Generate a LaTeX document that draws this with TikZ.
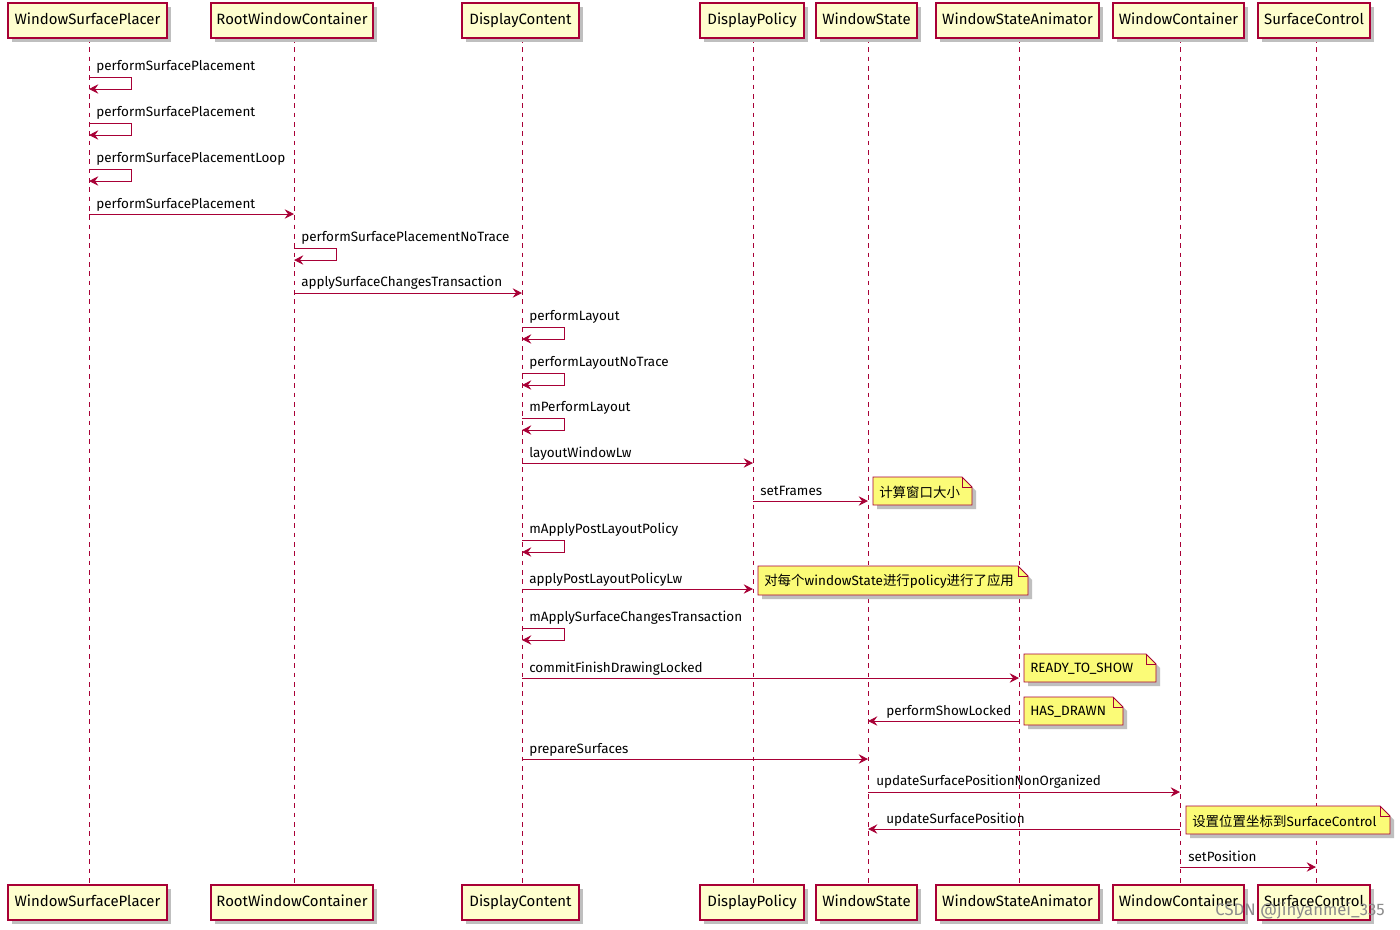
\documentclass[tikz,border=0pt]{standalone}
\usepackage{fontspec}
\setmainfont{Fira Sans}
\newfontfamily\cjk{Noto Sans CJK SC}
\usetikzlibrary{arrows.meta}
\definecolor{brd}{HTML}{A80036}
\definecolor{pbg}{HTML}{FEFECE}
\definecolor{nbg}{HTML}{FBFB77}
\tikzset{
 part/.style={draw=brd,fill=pbg,line width=0.9pt,minimum height=35*0.75pt,inner sep=0pt,text height=8pt,text depth=2.5pt,font=\fontsize{11.2}{13}\selectfont,anchor=center},
 shadow/.style={fill=black!25,draw=none},
 life/.style={draw=brd,dashed,dash pattern=on 3.5pt off 3.5pt,line width=0.6pt},
 msg/.style={draw=brd,line width=0.7pt,-{Stealth[length=7pt,width=7pt,inset=2.5pt]}},
 lbl/.style={font=\fontsize{10.1}{12}\selectfont,anchor=base west,inner sep=0pt},
 notef/.style={draw=brd,fill=nbg,line width=0.6pt},
}
\newcommand{\partbox}[5]{% name, x1, x2, y-center, text
 \fill[shadow] (#2+4,#4-13.5) rectangle (#3+4,#4+21.5);
 \node[part,minimum width=(#3-#2)*0.75pt] (#1) at ({(#2+#3)/2},#4) {#5};}
\newcommand{\selfmsg}[4]{% name x ytop label
 \coordinate (#1a) at (#2,#3); \coordinate (#1b) at (#2+42,#3);
 \coordinate (#1c) at (#2+42,#3+12); \coordinate (#1d) at (#2,#3+12);
 \draw[msg] (#1a) -- (#1b) -- (#1c) -- (#1d);
 \node[lbl] (#1l) at (#2+7,#3-7) {#4};}
\newcommand{\amsg}[5]{% name x1 x2 y label(labelx)
 \coordinate (#1a) at (#2,#4); \coordinate (#1b) at (#3,#4);
 \draw[msg] (#1a) -- (#1b);}
\newcommand{\note}[6]{% name x1 x2 y1 y2 text
 \fill[shadow] (#2+4,#4+4) -- (#3-6,#4+4) -- (#3+4,#4+14) -- (#3+4,#5+4) -- (#2+4,#5+4) -- cycle;
 \draw[notef] (#2,#4) -- (#3-10,#4) -- (#3,#4+10) -- (#3,#5) -- (#2,#5) -- cycle;
 \draw[brd,line width=0.6pt] (#3-10,#4) -- (#3-10,#4+10) -- (#3,#4+10);
 \node[lbl,anchor=west] (#1) at (#2+6,{(#4+#5)/2+1}) {#6};}
\begin{document}
\begin{tikzpicture}[x=0.75pt,y=-0.75pt]
\useasboundingbox (0,0) rectangle (1400,929);
\fill[white] (0,0) rectangle (1400,929);
% lifelines
\foreach \n/\x in {wsp/89,rwc/294,dc/522,dp/753,ws/868,wsa/1019,wc/1180,sc/1316}{
 \coordinate (\n t) at (\x,38); \coordinate (\n b) at (\x,885);
 \draw[life] (\n t) -- (\n b);}
% boxes
\foreach \n/\a/\b/\t in {wsp/8/167/WindowSurfacePlacer,rwc/211/373/RootWindowContainer,dc/462/579/DisplayContent,dp/700/804/DisplayPolicy,ws/816/917/WindowState,wsa/936/1099/WindowStateAnimator,wc/1113/1244/WindowContainer,sc/1258/1370/SurfaceControl}{
 \partbox{\n T}{\a}{\b}{20.5}{\t}
 \partbox{\n B}{\a}{\b}{902.5}{\t}}
% messages
\selfmsg{m1}{89}{77}{performSurfacePlacement}
\selfmsg{m2}{89}{123}{performSurfacePlacement}
\selfmsg{m3}{89}{169}{performSurfacePlacementLoop}
\amsg{m4}{89}{294}{214}{} \node[lbl] (m4l) at (96,208) {performSurfacePlacement};
\selfmsg{m5}{294}{248}{performSurfacePlacementNoTrace}
\amsg{m6}{294}{522}{293}{} \node[lbl] (m6l) at (301,286) {applySurfaceChangesTransaction};
\selfmsg{m7}{522}{327}{performLayout}
\selfmsg{m8}{522}{373}{performLayoutNoTrace}
\selfmsg{m9}{522}{418}{mPerformLayout}
\amsg{m10}{522}{753}{463}{} \node[lbl] (m10l) at (529,457) {layoutWindowLw};
\amsg{m11}{753}{868}{501}{} \node[lbl] (m11l) at (760,495) {setFrames};
\note{n1}{873}{972}{477}{505}{\cjk 计算窗口大小}
\selfmsg{m12}{522}{540}{mApplyPostLayoutPolicy}
\amsg{m13}{522}{753}{589}{} \node[lbl] (m13l) at (529,583) {applyPostLayoutPolicyLw};
\note{n2}{758}{1028}{566}{595}{{\cjk 对每个}windowState{\cjk 进行}policy{\cjk 进行了应用}}
\selfmsg{m14}{522}{628}{mApplySurfaceChangesTransaction}
\amsg{m15}{522}{1019}{678}{} \node[lbl] (m15l) at (529,672) {commitFinishDrawingLocked};
\note{n3}{1024}{1156}{654}{682}{READY\_TO\_SHOW}
\amsg{m16}{1019}{868}{721}{} \node[lbl] (m16l) at (886,715) {performShowLocked};
\note{n4}{1024}{1123}{697}{725}{HAS\_DRAWN}
\amsg{m17}{522}{868}{759}{} \node[lbl] (m17l) at (529,753) {prepareSurfaces};
\amsg{m18}{868}{1180}{792}{} \node[lbl] (m18l) at (876,785) {updateSurfacePositionNonOrganized};
\amsg{m19}{1180}{868}{829}{} \node[lbl] (m19l) at (886,823) {updateSurfacePosition};
\note{n5}{1186}{1390}{806}{834}{{\cjk 设置位置坐标到}SurfaceControl}
\amsg{m20}{1180}{1316}{867}{} \node[lbl] (m20l) at (1188,861) {setPosition};
\node[lbl,anchor=base east,text=black!45,font=\fontsize{12.5}{14}\selectfont] (wm) at (1385,915) {CSDN @jinyanmei\_335};
\end{tikzpicture}
\end{document}
